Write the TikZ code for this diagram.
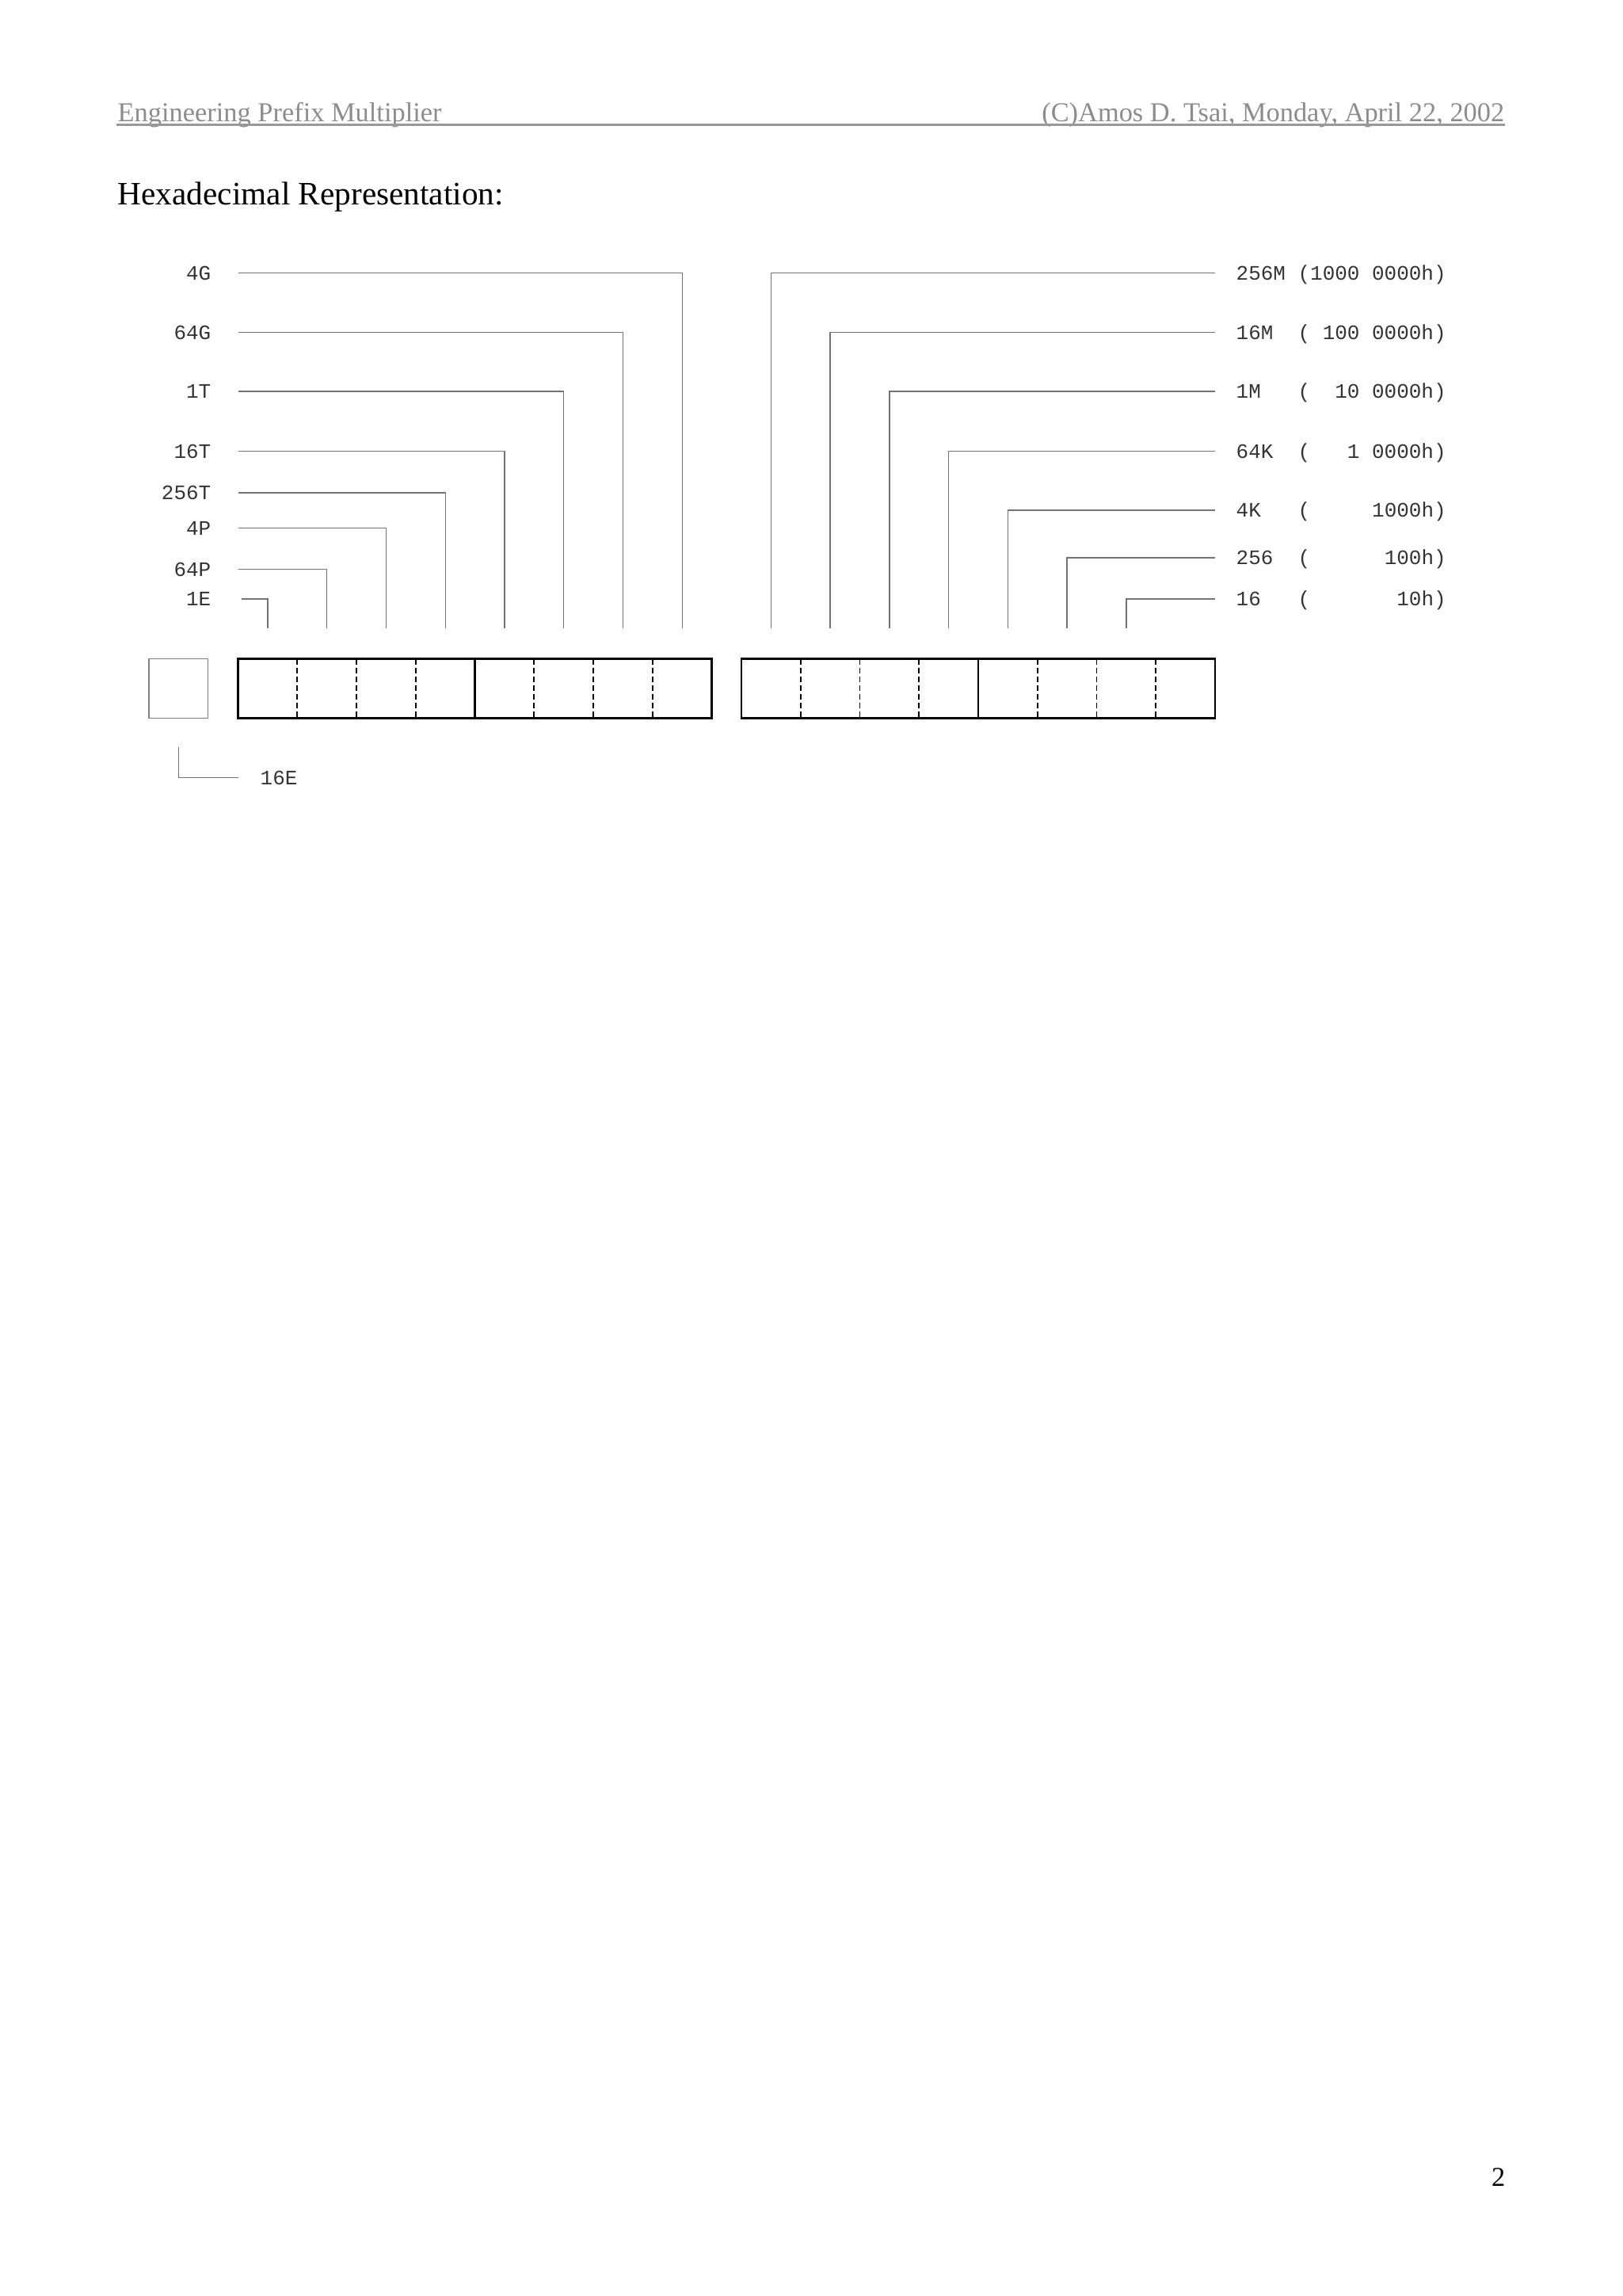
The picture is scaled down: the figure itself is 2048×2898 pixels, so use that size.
\documentclass[tikz,border=0pt]{standalone}
\usepackage{fontspec}
\setmainfont{Liberation Serif}
\newfontfamily\monofont{Liberation Mono}
\tikzset{
  hdr/.style={font=\fontsize{10}{12}\selectfont, text=black!45, inner sep=0pt},
  ttl/.style={font=\fontsize{12}{14}\selectfont, text=black, inner sep=0pt},
  pgnum/.style={font=\fontsize{10}{12}\selectfont, text=black, inner sep=0pt},
  mono/.style={font=\monofont\fontsize{7.55}{9}\selectfont, text=black!80, inner sep=0pt, text height=5.2pt, text depth=0pt},
  conn/.style={draw=black!55, line width=0.4pt},
  hdrrule/.style={draw=black!40, line width=0.6pt},
  cell/.style={minimum width=21.727pt, minimum height=21.684pt, inner sep=0pt, outer sep=0pt},
  boxline/.style={draw=black, line width=0.75pt},
  divline/.style={draw=black, line width=0.5pt, dash pattern=on 2pt off 1.2pt},
  smallbox/.style={draw=black!50, line width=0.4pt},
}
\begin{document}
\begin{tikzpicture}[x=0.290664pt, y=-0.290664pt]
\useasboundingbox (0,0) rectangle (2048,2898);

% header
\node[hdr, anchor=base west] (hl) at (148,153) {Engineering Prefix Multiplier};
\node[hdr, anchor=base east] (hr) at (1900,153) {(C)Amos D. Tsai, Monday, April 22, 2002};
\coordinate (ruleL) at (147,157.5);
\coordinate (ruleR) at (1900,157.5);
\draw[hdrrule] (ruleL) -- (ruleR);

% title
\node[ttl, anchor=base west] (title) at (148,258) {Hexadecimal Representation:};

% cells
\node[cell] (S) at (225.4,869) {};
\foreach \i in {1,...,8} {
  \node[cell] (L\i) at ({300.6+74.75*(\i-0.5)},869) {};
  \node[cell] (R\i) at ({936+74.75*(\i-0.5)},869) {};
}
\draw[smallbox] (S.north west) rectangle (S.south east);
\foreach \i in {1,2,3,5,6,7} {
  \draw[divline] (L\i.north east) -- (L\i.south east);
  \draw[divline] (R\i.north east) -- (R\i.south east);
}
\draw[boxline] (L4.north east) -- (L4.south east);
\draw[boxline] (R4.north east) -- (R4.south east);
\draw[boxline] (L1.north west) rectangle (L8.south east);
\draw[boxline] (R1.north west) rectangle (R8.south east);

% left labels
\node[mono, anchor=east] (l4G)   at (267,344.3) {4G};
\node[mono, anchor=east] (l64G)  at (267,419.3) {64G};
\node[mono, anchor=east] (l1T)   at (267,494)   {1T};
\node[mono, anchor=east] (l16T)  at (267,569.3) {16T};
\node[mono, anchor=east] (l256T) at (267,622)   {256T};
\node[mono, anchor=east] (l4P)   at (267,666.7) {4P};
\node[mono, anchor=east] (l64P)  at (267,718.7) {64P};
\node[mono, anchor=east] (l1E)   at (267,756)   {1E};

\draw[conn] ([xshift=9.8pt]l4G.east)   -| ([yshift=11.25pt]L8.north);
\draw[conn] ([xshift=9.8pt]l64G.east)  -| ([yshift=11.25pt]L7.north);
\draw[conn] ([xshift=9.8pt]l1T.east)   -| ([yshift=11.25pt]L6.north);
\draw[conn] ([xshift=9.8pt]l16T.east)  -| ([yshift=11.25pt]L5.north);
\draw[conn] ([xshift=9.8pt]l256T.east) -| ([yshift=11.25pt]L4.north);
\draw[conn] ([xshift=9.8pt]l4P.east)   -| ([yshift=11.25pt]L3.north);
\draw[conn] ([xshift=9.8pt]l64P.east)  -| ([yshift=11.25pt]L2.north);
\draw[conn] ([xshift=10.9pt]l1E.east)  -| ([yshift=11.25pt]L1.north);

% right labels
\node[mono, anchor=west] (r256M) at (1560,344.3) {256M~(1000~0000h)};
\node[mono, anchor=west] (r16M)  at (1560,419.3) {16M~~(~100~0000h)};
\node[mono, anchor=west] (r1M)   at (1560,494)   {1M~~~(~~10~0000h)};
\node[mono, anchor=west] (r64K)  at (1560,569.3) {64K~~(~~~1~0000h)};
\node[mono, anchor=west] (r4K)   at (1560,644)   {4K~~~(~~~~~1000h)};
\node[mono, anchor=west] (r256)  at (1560,704)   {256~~(~~~~~~100h)};
\node[mono, anchor=west] (r16)   at (1560,756)   {16~~~(~~~~~~~10h)};

\draw[conn] ([xshift=-7.56pt]r256M.west) -| ([yshift=11.25pt]R1.north);
\draw[conn] ([xshift=-7.56pt]r16M.west)  -| ([yshift=11.25pt]R2.north);
\draw[conn] ([xshift=-7.56pt]r1M.west)   -| ([yshift=11.25pt]R3.north);
\draw[conn] ([xshift=-7.56pt]r64K.west)  -| ([yshift=11.25pt]R4.north);
\draw[conn] ([xshift=-7.56pt]r4K.west)   -| ([yshift=11.25pt]R5.north);
\draw[conn] ([xshift=-7.56pt]r256.west)  -| ([yshift=11.25pt]R6.north);
\draw[conn] ([xshift=-7.56pt]r16.west)   -| ([yshift=11.25pt]R7.north);

% 16E
\node[mono, anchor=west] (l16E) at (328,981.4) {16E};
\draw[conn] ([yshift=-10.67pt]S.south) |- ([xshift=-7.96pt]l16E.west);

% page number
\node[pgnum, anchor=base east] (pg) at (1901,2759) {2};
\end{tikzpicture}
\end{document}
